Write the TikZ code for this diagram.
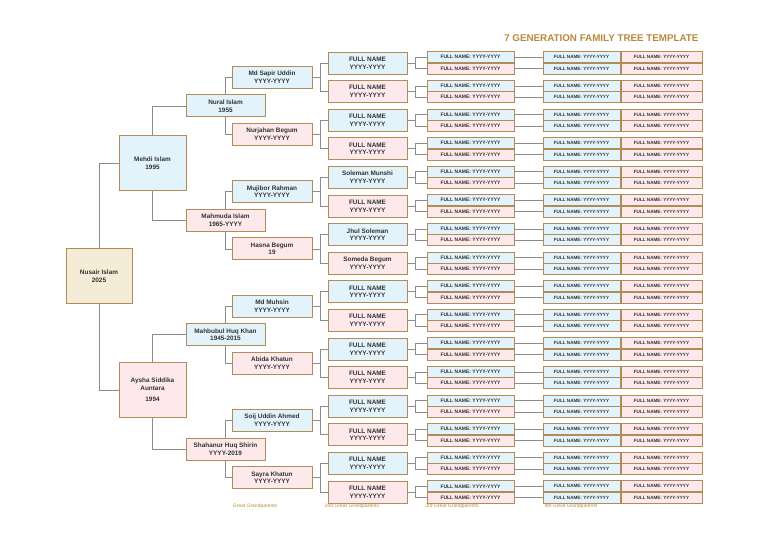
\documentclass[tikz,border=0pt]{standalone}
\usepackage{fontspec}
\setmainfont{Liberation Sans}
\definecolor{bd}{HTML}{B08D57}
\definecolor{bl}{HTML}{E3F3FB}
\definecolor{pk}{HTML}{FDE9EC}
\definecolor{tn}{HTML}{F5ECD7}
\definecolor{lc}{HTML}{8C8C8C}
\definecolor{txt}{HTML}{333333}
\definecolor{ttl}{HTML}{B8893A}
\begin{document}
\begin{tikzpicture}[x=1pt,y=-1pt,
  box/.style={draw=bd,line width=0.9pt,inner sep=0pt,align=center,text=txt,font=\bfseries\fontsize{6.4}{7.7}\selectfont},
  sm/.style={box,line width=0.8pt,font=\bfseries\fontsize{5}{6}\selectfont},
  xs/.style={box,line width=0.8pt,font=\bfseries\fontsize{4.6}{5}\selectfont},
  ln/.style={draw=lc,line width=0.8pt},
  lab/.style={text=ttl,font=\fontsize{5}{6}\selectfont}]
\useasboundingbox (0,0) rectangle (768,543);
\node[anchor=east,text=ttl,font=\bfseries\fontsize{9.8}{11}\selectfont] (title) at (702,38) {7 GENERATION FAMILY TREE TEMPLATE};
% generation 0
\node[box,fill=tn,minimum width=66pt,minimum height=55pt] (g0) at (99,276) {Nusair Islam\\2025};
% generation 1
\node[box,fill=bl,minimum width=67pt,minimum height=55pt] (g1a) at (152.5,163) {Mehdi Islam\\1995};
\node[box,fill=pk,minimum width=67pt,minimum height=55pt] (g1b) at (152.5,390) {Aysha Siddika\\Auntara\\[4pt]1994};
\draw[ln] (g0.north) |- (g1a.west);
\draw[ln] (g0.south) |- (g1b.west);
% generation 2
\foreach \j/\t/\c/\p/\s in {0/{Nural Islam\\1955}/bl/g1a/north,1/{Mahmuda Islam\\1965-YYYY}/pk/g1a/south,2/{Mahbubul Huq Khan\\1945-2015}/bl/g1b/north,3/{Shahanur Huq Shirin\\YYYY-2019}/pk/g1b/south}{
  \node[box,fill=\c,minimum width=79pt,minimum height=22pt] (g2-\j) at (225.5,105.9+114.4*\j) {\t};
  \draw[ln] (\p.\s) |- (g2-\j.west);
}
% generation 3
\foreach \k/\t in {0/{Md Sapir Uddin\\YYYY-YYYY},1/{Nurjahan Begum\\YYYY-YYYY},2/{Mujibor Rahman\\YYYY-YYYY},3/{Hasna Begum\\19},4/{Md Muhsin\\YYYY-YYYY},5/{Abida Khatun\\YYYY-YYYY},6/{Soij Uddin Ahmed\\YYYY-YYYY},7/{Sayra Khatun\\YYYY-YYYY}}{
  \pgfmathtruncatemacro{\pr}{int(\k/2)}
  \pgfmathsetmacro{\side}{mod(\k,2)==0?"north":"south"}
  \pgfmathsetmacro{\fc}{mod(\k,2)==0?"bl":"pk"}
  \node[box,fill=\fc,minimum width=80pt,minimum height=22pt] (g3-\k) at (272,77.3+57.2*\k) {\t};
  \draw[ln] (g2-\pr.\side) |- (g3-\k.west);
}
% generation 4
\foreach \i/\t in {0/FULL NAME,1/FULL NAME,2/FULL NAME,3/FULL NAME,4/Soleman Munshi,5/FULL NAME,6/Jhul Soleman,7/Someda Begum,8/FULL NAME,9/FULL NAME,10/FULL NAME,11/FULL NAME,12/FULL NAME,13/FULL NAME,14/FULL NAME,15/FULL NAME}{
  \pgfmathtruncatemacro{\pr}{int(\i/2)}
  \pgfmathsetmacro{\fc}{mod(\i,2)==0?"bl":"pk"}
  \pgfmathsetmacro{\yc}{63+28.6*\i}
  \node[box,fill=\fc,minimum width=79pt,minimum height=22pt] (g4-\i) at (367.5,\yc) {\t\\YYYY-YYYY};
  \draw[ln] (g3-\pr.east) -- ([xshift=8pt]g3-\pr.east) |- (g4-\i.west);
  % generation 5
  \node[sm,fill=bl,minimum width=87pt,minimum height=11pt] (g5-\i-a) at (470.5,\yc-5.7) {FULL NAME: YYYY-YYYY};
  \node[sm,fill=pk,minimum width=87pt,minimum height=11pt] (g5-\i-b) at (470.5,\yc+5.7) {FULL NAME: YYYY-YYYY};
  \draw[ln] (g4-\i.east) -- ([xshift=8pt]g4-\i.east) |- (g5-\i-a.west);
  \draw[ln] ([xshift=8pt]g4-\i.east) |- (g5-\i-b.west);
  % generations 6 and 7
  \foreach \q/\dy in {a/-5.7,b/5.7}{
    \node[xs,fill=bl,minimum width=77pt,minimum height=11pt] (g6-\i-\q) at (581.5,\yc+\dy) {FULL NAME: YYYY-YYYY};
    \node[xs,fill=pk,minimum width=81pt,minimum height=11pt] (g7-\i-\q) at (661.5,\yc+\dy) {FULL NAME: YYYY-YYYY};
    \draw[ln,line width=0.5pt] (g5-\i-\q.east) -- (g6-\i-\q.west);
  }
}
\node[lab] (l1) at (255,506) {Great Grandparents};
\node[lab] (l2) at (352,506) {2nd Great Grandparents};
\node[lab] (l3) at (452,506) {3rd Great Grandparents};
\node[lab] (l4) at (571,506) {4th Great Grandparents};
\end{tikzpicture}
\end{document}
